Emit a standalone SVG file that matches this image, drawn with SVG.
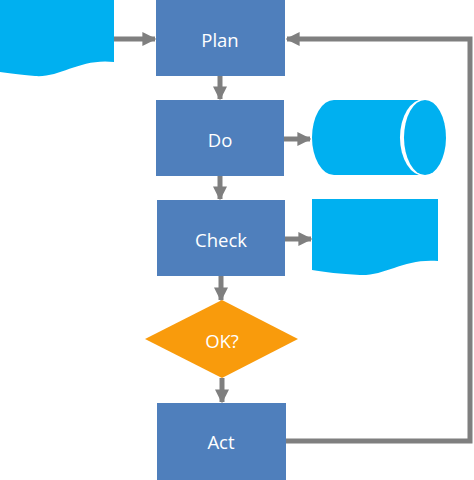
<svg xmlns="http://www.w3.org/2000/svg" width="474" height="480" viewBox="0 0 474 480">
<defs>
<marker id="ah" viewBox="0 0 10 10" refX="9" refY="5" markerWidth="2.8" markerHeight="3.2" orient="auto" markerUnits="strokeWidth">
<path d="M0,0 L10,5 L0,10 Z" fill="#7f7f7f"/>
</marker>
<style>
.box{fill:#4f7fbc}
.cyan{fill:#00b0f0}
.lbl{font-family:"Open Sans","Liberation Sans",sans-serif;font-size:18.5px;fill:#ffffff;text-anchor:middle;dominant-baseline:central}
.conn{stroke:#7f7f7f;stroke-width:5;fill:none}
</style>
</defs>
<g id="connectors">
<line class="conn" x1="114" y1="39" x2="155" y2="39" marker-end="url(#ah)"/>
<line class="conn" x1="220" y1="76" x2="220" y2="99" marker-end="url(#ah)"/>
<line class="conn" x1="220" y1="176" x2="220" y2="199" marker-end="url(#ah)"/>
<line class="conn" x1="284" y1="139" x2="310" y2="139" marker-end="url(#ah)"/>
<line class="conn" x1="285" y1="239" x2="311" y2="239" marker-end="url(#ah)"/>
<line class="conn" x1="221" y1="276" x2="221" y2="300" marker-end="url(#ah)"/>
<line class="conn" x1="222" y1="378" x2="222" y2="402" marker-end="url(#ah)"/>
<polyline class="conn" points="286,441 470,441 470,39 287,39" marker-end="url(#ah)"/>
</g>
<g id="input-doc">
<path class="cyan" d="M0,0 H114 V62 C80,58 60,78 35,76 C20,75 10,73 0,72 Z"/>
</g>
<g id="plan">
<rect class="box" x="156" y="0" width="129" height="76"/>
<text class="lbl" x="220" y="39">Plan</text>
</g>
<g id="do">
<rect class="box" x="156" y="100" width="128" height="76"/>
<text class="lbl" x="220" y="139">Do</text>
</g>
<g id="storage">
<path class="cyan" d="M334,100 H424 V175 H334 A22,37.5 0 0 1 334,100 Z"/>
<ellipse cx="424" cy="137.5" rx="24" ry="38.5" fill="#ffffff"/>
<ellipse cx="425" cy="137.5" rx="21" ry="37.5" class="cyan"/>
</g>
<g id="check">
<rect class="box" x="157" y="200" width="128" height="76"/>
<text class="lbl" x="221" y="239">Check</text>
</g>
<g id="output-doc">
<path class="cyan" d="M312,199 H438 V261 C405,258 385,276 360,275 C340,274 325,272 312,270 Z"/>
</g>
<g id="ok">
<polygon points="222,300 298,339 222,378 145,339" fill="#f99b0c"/>
<text class="lbl" x="222" y="340">OK?</text>
</g>
<g id="act">
<rect class="box" x="157" y="403" width="129" height="77"/>
<text class="lbl" x="221" y="441">Act</text>
</g>
</svg>
